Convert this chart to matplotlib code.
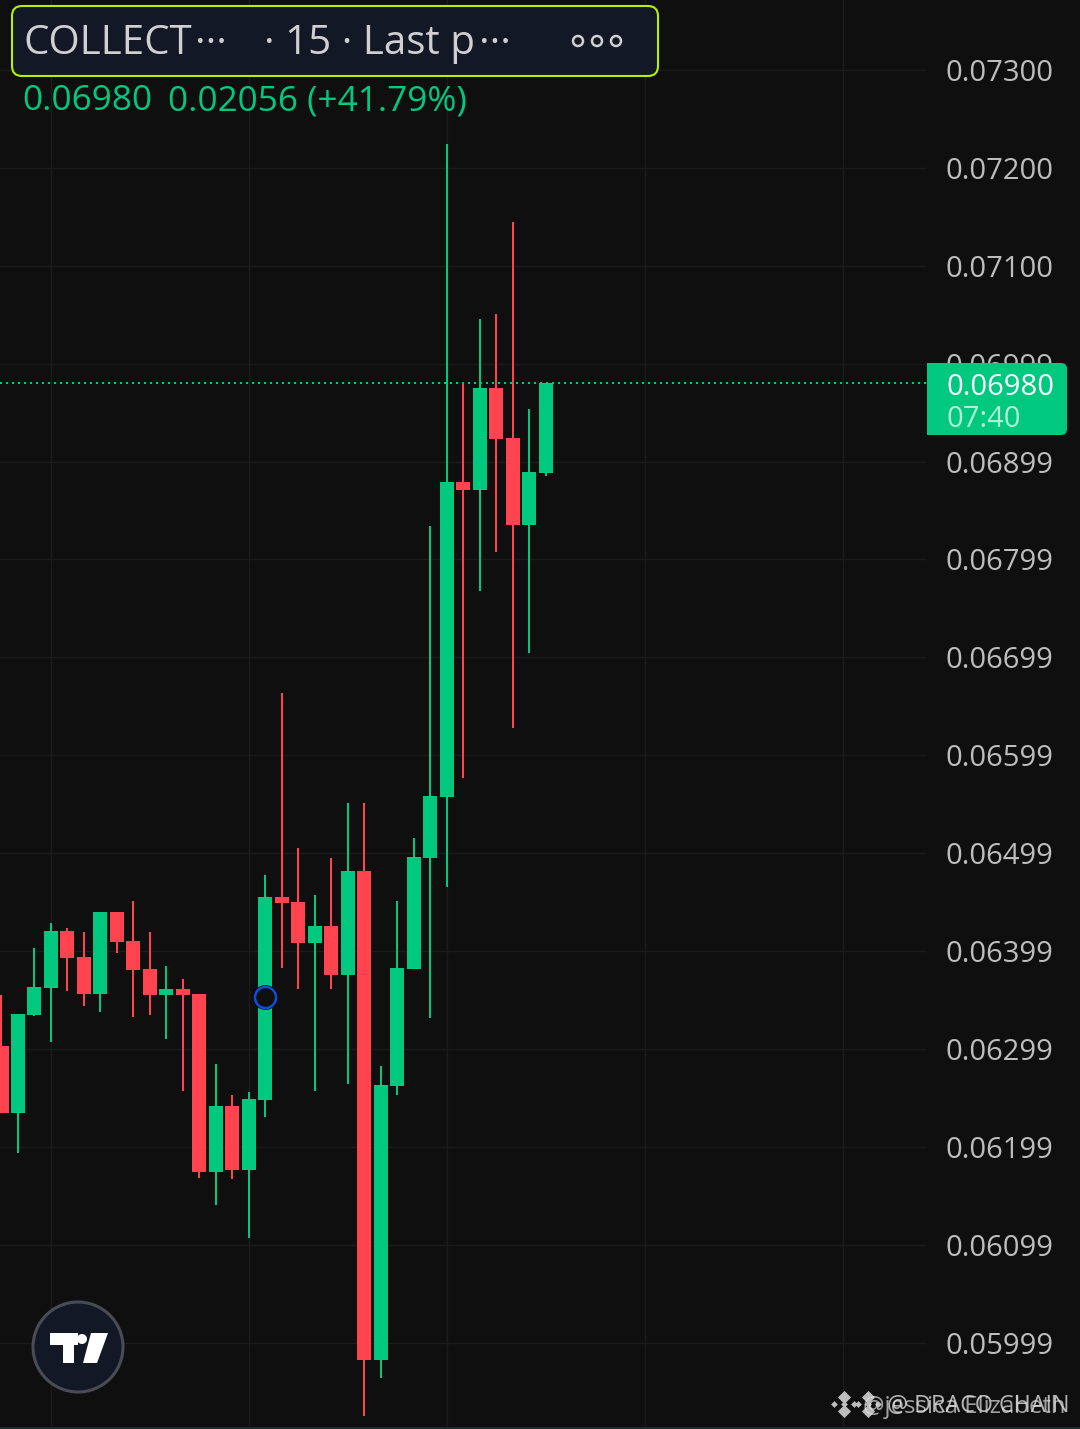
# External
import numpy as np
import matplotlib
matplotlib.use("Agg")
import matplotlib.pyplot as plt
from matplotlib.patches import FancyBboxPatch, Circle, Polygon, Rectangle

# %%
# Candle data
opens = [0.06303, 0.06235, 0.06335, 0.06362, 0.06421, 0.06394, 0.06356, 0.06440, 0.06410,
         0.06382, 0.06355, 0.06361, 0.06356, 0.06174, 0.06242, 0.06176, 0.06248, 0.06455,
         0.06450, 0.06408, 0.06426, 0.06376, 0.06482, 0.05982, 0.06262, 0.06382, 0.06495,
         0.06557, 0.06879, 0.06871, 0.06975, 0.06924, 0.06835, 0.06888]
closes = [0.06235, 0.06336, 0.06363, 0.06421, 0.06393, 0.06356, 0.06440, 0.06409, 0.06381,
          0.06355, 0.06361, 0.06355, 0.06174, 0.06242, 0.06176, 0.06249, 0.06455, 0.06449,
          0.06408, 0.06426, 0.06376, 0.06482, 0.05982, 0.06263, 0.06383, 0.06496, 0.06558,
          0.06879, 0.06871, 0.06975, 0.06923, 0.06835, 0.06889, 0.06980]
highs = [0.06355, 0.06336, 0.06403, 0.06429, 0.06424, 0.06420, 0.06440, 0.06440, 0.06451,
         0.06420, 0.06385, 0.06371, 0.06356, 0.06285, 0.06253, 0.06256, 0.06478, 0.06664,
         0.06505, 0.06457, 0.06495, 0.06551, 0.06551, 0.06283, 0.06451, 0.06516, 0.06834,
         0.07224, 0.06980, 0.07046, 0.07051, 0.07145, 0.06954, 0.06980]
lows = [0.06235, 0.06194, 0.06334, 0.06307, 0.06359, 0.06344, 0.06338, 0.06398, 0.06333,
        0.06335, 0.06310, 0.06257, 0.06168, 0.06141, 0.06167, 0.06107, 0.06231, 0.06383,
        0.06361, 0.06257, 0.06361, 0.06264, 0.05925, 0.05964, 0.06253, 0.06382, 0.06332,
        0.06465, 0.06577, 0.06768, 0.06808, 0.06628, 0.06704, 0.06885]

# grid levels are evenly spaced, the labels round a bit lower
price_ticks = [0.07300, 0.07200, 0.07100, 0.07000, 0.06900, 0.06800, 0.06700,
               0.06600, 0.06500, 0.06400, 0.06300, 0.06200, 0.06100, 0.06000]
price_labels = ["0.07300", "0.07200", "0.07100", "0.06999", "0.06899", "0.06799", "0.06699",
                "0.06599", "0.06499", "0.06399", "0.06299", "0.06199", "0.06099", "0.05999"]
grid_bars = [3, 15, 27, 39, 51]
last_price = 0.06980
marker_bar = 16
marker_price = 0.06353

# %%
# Colours and layout
W, H = 1080, 1429
bg = "#0f0f0f"
grid_col = "#1b1b1b"
green = "#00c87f"
red = "#ff434f"
font = "Open Sans"
bar_px = 16.5        # distance between candles
px_per_price = 97900  # pixels for one unit of price
plot_right = 927

fig = plt.figure(figsize=(W / 100, H / 100), dpi=100, facecolor=bg)
ax = fig.add_axes([0, 0, plot_right / W, 1], facecolor=bg)
ax.set_xlim(-1.5 / bar_px, (plot_right - 1.5) / bar_px)
ax.set_ylim(0.073 - (H - 70) / px_per_price, 0.073 + 70 / px_per_price)

# %%
# Axis and grid
for s in ax.spines.values():
    s.set_visible(False)
ax.yaxis.tick_right()
ax.set_yticks(price_ticks)
ax.set_yticklabels(price_labels, fontname=font, fontsize=21, color="#bdbdbd")
ax.tick_params(axis="y", length=0, pad=13)
ax.set_xticks(grid_bars)
ax.tick_params(axis="x", length=0, labelbottom=False)
ax.grid(True, color=grid_col, linewidth=1.0)
ax.set_axisbelow(True)

# %%
# Candles
x = np.arange(len(opens))
o = np.array(opens)
c = np.array(closes)
cols = [green if b >= a else red for a, b in zip(opens, closes)]
ax.vlines(x, lows, highs, colors=cols, linewidth=1.44, zorder=3)
ax.bar(x, c - o, bottom=o, width=14 / bar_px, color=cols, linewidth=0, zorder=3)

# Last price line and the blue marker
ax.axhline(last_price, color=green, linewidth=1.44, linestyle=(0, (1, 2)), zorder=2)
ax.scatter([marker_bar], [marker_price], s=320, color="#050505", linewidths=0, zorder=4)
ax.scatter([marker_bar], [marker_price], s=230, facecolor=bg, edgecolor="#0b4fd8",
           linewidths=1.8, zorder=5)

# %%
# Overlay in pixels for header, badge, logo and watermark
ov = fig.add_axes([0, 0, 1, 1], facecolor="none")
ov.set_xlim(0, W)
ov.set_ylim(H, 0)
ov.axis("off")

# Header box
ov.add_patch(FancyBboxPatch((12, 6), 646, 70, boxstyle="round,pad=0,rounding_size=10",
                            facecolor="#131827", edgecolor="#b5f000", linewidth=1.5))
ov.text(24, 38.5, "COLLECT", fontname=font, fontsize=29, color="#d0d0d0", va="center_baseline")
ov.text(195, 38.5, "···", fontname=font, fontsize=29, color="#d0d0d0", va="center_baseline")
ov.text(264, 38.5, "· 15 · Last p", fontname=font, fontsize=29, color="#d0d0d0", va="center_baseline")
ov.text(479, 38.5, "···", fontname=font, fontsize=29, color="#d0d0d0", va="center_baseline")
for cx in [578, 597, 616]:
    ov.add_patch(Circle((cx, 41), 5, facecolor="none", edgecolor="#d0d0d0", linewidth=1.8))
ov.text(22.5, 97, "0.06980", fontname=font, fontsize=25.3, color=green, va="center_baseline")
ov.text(168.5, 97, "0.02056 (+41.79%)", fontname=font, fontsize=25.3, color=green, va="center_baseline")

# Price badge
ov.add_patch(Rectangle((927, 363), 20, 72, facecolor=green, linewidth=0))
ov.add_patch(FancyBboxPatch((930, 363), 137, 72, boxstyle="round,pad=0,rounding_size=6",
                            facecolor=green, linewidth=0))
ov.text(946, 383.5, "0.06980", fontname=font, fontsize=21, color="white", va="center_baseline")
ov.text(946, 416, "07:40", fontname=font, fontsize=21, color="#b3eed8", va="center_baseline")

# TradingView logo
ov.add_patch(Circle((78, 1347), 45, facecolor="#131827", edgecolor="#4a4c55", linewidth=2.2))
ov.add_patch(Polygon([(50, 1333), (78, 1333), (78, 1345), (74, 1345), (74, 1363), (63, 1363),
                      (63, 1345), (50, 1345)], facecolor="white", linewidth=0))
ov.add_patch(Circle((82, 1339), 5, facecolor="white", linewidth=0))
ov.add_patch(Polygon([(91, 1333), (108, 1333), (97, 1363), (83, 1363)],
                     facecolor="white", linewidth=0))

# Watermark, two texts on top of each other
for cx in [844, 868]:
    for dx, dy, size in [(0, -7, 45), (0, 7, 45), (-10, 0, 12), (10, 0, 12), (0, 0, 12)]:
        ov.scatter([cx + dx], [1404 + dy], marker="D", s=size, color="#bdbdbd", linewidths=0)
ov.text(887, 1403, "@ DRACO CHAIN", fontname=font, fontsize=16.8, color="#e0e0e0", alpha=0.8,
        va="center_baseline")
ov.text(863, 1404, "@jessica Elizabeth", fontname=font, fontsize=17.2, color="#e0e0e0", alpha=0.7,
        va="center_baseline")

# Strip at the very bottom
ov.add_patch(Rectangle((0, 1427), W, 2, facecolor="#1f2b2d", linewidth=0))

fig.savefig("out.png", dpi=100, facecolor=bg)
